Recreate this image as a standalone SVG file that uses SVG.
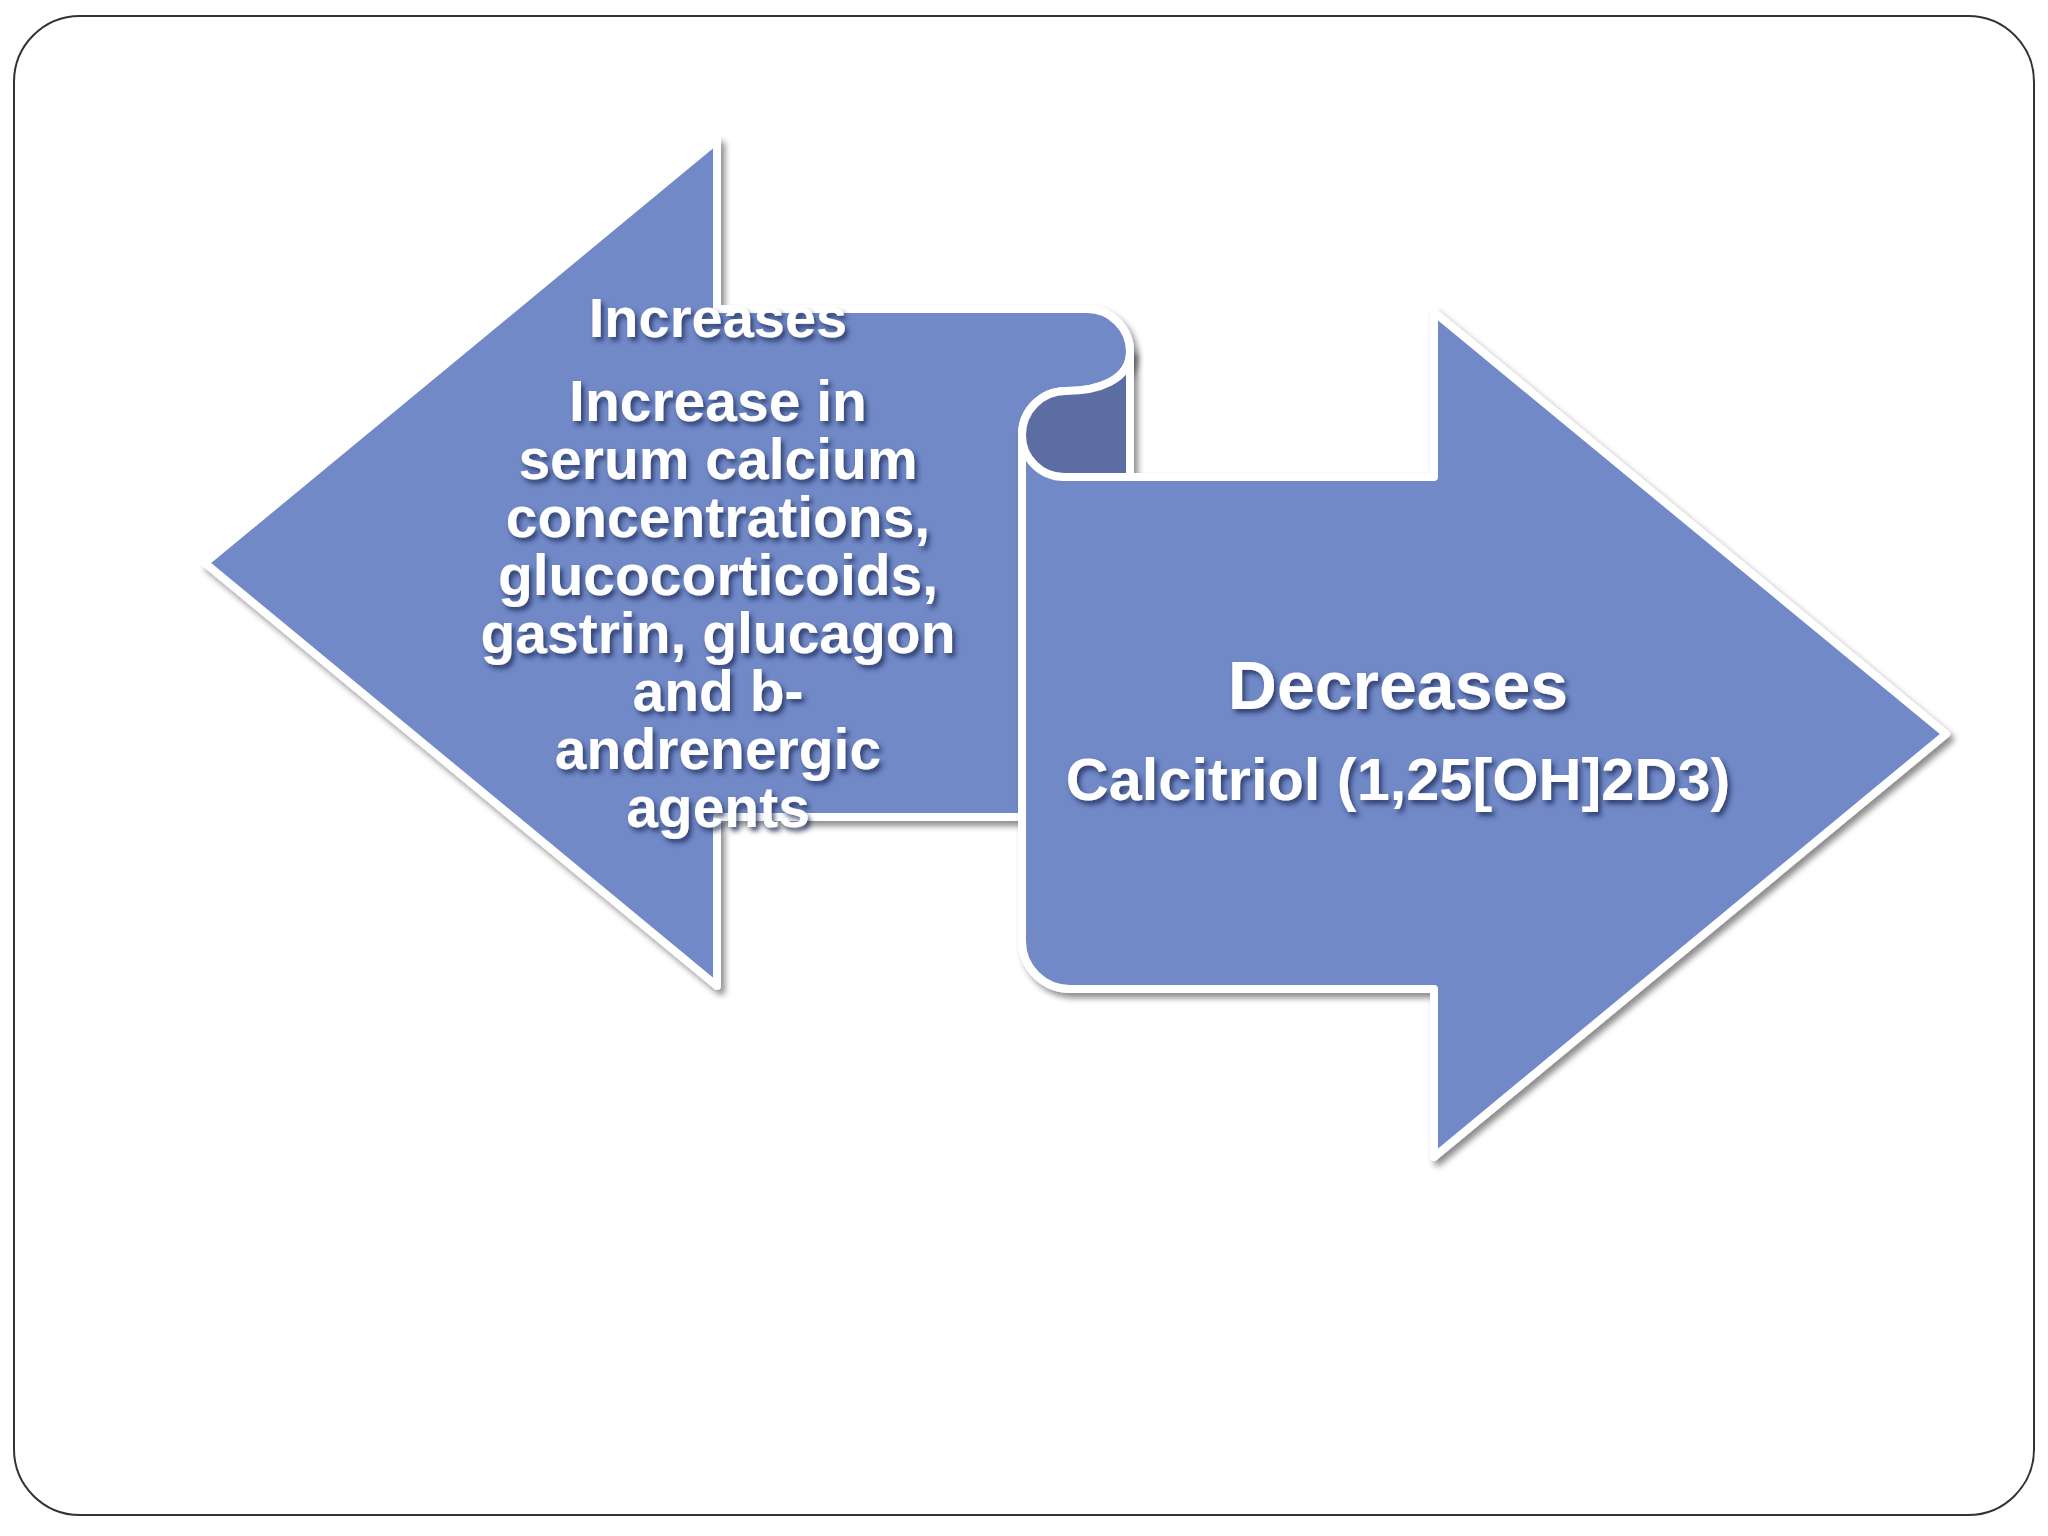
<svg xmlns="http://www.w3.org/2000/svg" width="2048" height="1536" viewBox="0 0 2048 1536">
<defs>
<filter id="shapeShadow" x="-10%" y="-10%" width="120%" height="120%">
<feDropShadow dx="4" dy="5" stdDeviation="3" flood-color="#000" flood-opacity="0.45"/>
</filter>
<filter id="textShadow" x="-10%" y="-20%" width="120%" height="140%">
<feDropShadow dx="3" dy="4" stdDeviation="2.5" flood-color="#1c2a55" flood-opacity="0.75"/>
</filter>
<style>
.shape{fill:#7189c7;stroke:#ffffff;stroke-width:8;stroke-linejoin:round;}
.curl{fill:#5b6da4;stroke:#ffffff;stroke-width:8;stroke-linejoin:round;}
.txt{fill:#ffffff;font-family:"Liberation Sans",Arial,sans-serif;font-weight:bold;text-anchor:middle;}
.body{font-size:57px;}
</style>
</defs>
<rect x="0" y="0" width="2048" height="1536" fill="#ffffff"/>
<rect x="14" y="16" width="2020" height="1499" rx="66" ry="66" fill="none" stroke="#333333" stroke-width="2"/>
<g id="left-arrow" filter="url(#shapeShadow)">
<path class="shape" d="M205,563 L717,140 L717,309 L1087,309 A43,43 0 0 1 1130,352 C1130,380 1098,391 1066,391 A44,44 0 0 0 1022,435 L1022,817 L717,817 L717,986 Z"/>
</g>
<g id="right-arrow" filter="url(#shapeShadow)">
<path class="shape" d="M1066,391 A44,44 0 0 0 1022,435 L1022,941 A48,48 0 0 0 1070,989 L1434,989 L1434,1157 L1946,734 L1434,312 L1434,477 L1130,477 L1130,391 Z"/>
<path class="curl" d="M1130,352 L1130,477 L1064,477 A42,42 0 0 1 1022,435 A44,44 0 0 1 1066,391 C1098,391 1130,380 1130,352 Z"/>
</g>
<g id="left-text" filter="url(#textShadow)">
<text class="txt" x="718" y="337" font-size="56">Increases</text>
<text class="txt body" x="718" y="421">Increase in</text>
<text class="txt body" x="718" y="479">serum calcium</text>
<text class="txt body" x="718" y="537">concentrations,</text>
<text class="txt body" x="718" y="595">glucocorticoids,</text>
<text class="txt body" x="718" y="653">gastrin, glucagon</text>
<text class="txt body" x="718" y="711">and b-</text>
<text class="txt body" x="718" y="769">andrenergic</text>
<text class="txt body" x="718" y="827">agents</text>
</g>
<g id="right-text" filter="url(#textShadow)">
<text class="txt" x="1398" y="709" font-size="68">Decreases</text>
<text class="txt" x="1398" y="800" font-size="59.5">Calcitriol (1,25[OH]2D3)</text>
</g>
<g id="connectors"/>
</svg>
